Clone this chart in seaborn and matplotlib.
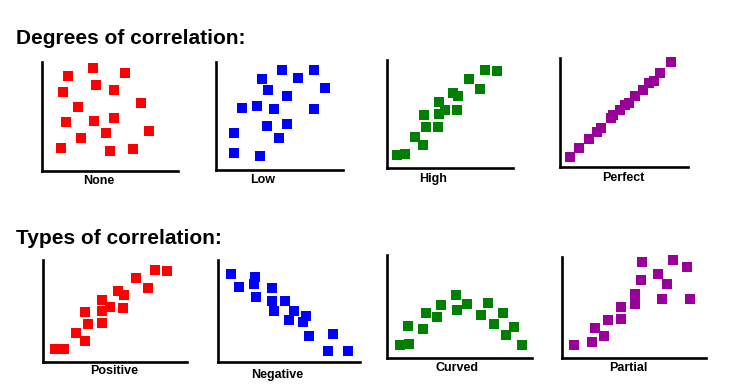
import matplotlib
matplotlib.use("Agg")
import matplotlib.pyplot as plt
import seaborn as sns
import pandas as pd

# ---- data (offsets from each panel's origin) ----
none_x = [51, 83, 26, 54, 21, 72, 36, 99, 24, 52, 72, 107, 64, 39, 19, 68, 91]
none_y = [103, 98, 95, 86, 79, 81, 64, 68, 49, 50, 53, 40, 38, 33, 23, 20, 22]

low_x = [66, 98, 46, 82, 109, 52, 71, 26, 41, 58, 98, 51, 71, 18, 63, 18, 44]
low_y = [100, 100, 91, 92, 82, 80, 74, 62, 64, 61, 61, 44, 46, 37, 32, 17, 14]

high_x = [10, 18, 36, 28, 39, 51, 37, 52, 58, 70, 52, 66, 71, 93, 82, 98, 110]
high_y = [13, 14, 23, 31, 41, 41, 53, 54, 58, 58, 66, 75, 72, 79, 89, 98, 97]

perfect_x = [10, 19, 29, 37, 41, 51, 53, 60, 65, 69, 75, 83, 89, 94, 100, 111]
perfect_y = [10, 19, 28, 35, 39, 49, 52, 57, 62, 64, 71, 77, 84, 86, 94, 105]

positive_x = [12, 21, 42, 33, 45, 59, 42, 59, 67, 80, 59, 75, 81, 105, 93, 112, 124]
positive_y = [13, 13, 21, 29, 38, 39, 50, 51, 55, 54, 62, 71, 67, 74, 84, 92, 91]

negative_x = [13, 37, 36, 21, 54, 38, 54, 67, 56, 76, 71, 88, 85, 91, 115, 110, 130]
negative_y = [88, 85, 78, 75, 74, 65, 61, 61, 51, 51, 42, 46, 40, 26, 28, 11, 11]

curved_x = [13, 22, 21, 36, 39, 50, 54, 69, 70, 80, 94, 101, 107, 116, 127, 119, 135]
curved_y = [13, 14, 32, 29, 45, 41, 53, 63, 48, 54, 43, 55, 34, 45, 31, 23, 13]

partial_x = [12, 30, 42, 33, 46, 59, 59, 73, 73, 100, 128, 79, 105, 96, 80, 111, 125]
partial_y = [13, 16, 22, 30, 38, 39, 51, 54, 64, 59, 59, 78, 74, 84, 96, 98, 91]

labels = ["None", "Low", "High", "Perfect", "Positive", "Negative", "Curved", "Partial"]
colors = ["#ff0000", "#0000ff", "#008000", "#990099",
          "#ff0000", "#0000ff", "#008000", "#990099"]
series = [(none_x, none_y), (low_x, low_y), (high_x, high_y), (perfect_x, perfect_y),
          (positive_x, positive_y), (negative_x, negative_y), (curved_x, curved_y),
          (partial_x, partial_y)]

# ---- layout (pixels, top-left origin): left, top, right, bottom ----
W, H = 744, 391
rects = [(42, 62, 178, 171), (216, 62, 343, 170), (387, 60, 513, 168), (560, 58, 688, 167),
         (43, 260, 187, 362), (218, 260, 360, 362), (387, 255, 532, 358), (562, 257, 706, 358)]
label_pos = [(99, 181), (263, 180), (433, 179), (623, 178),
             (114, 371), (277, 375), (457, 368), (628, 368)]

sns.set_style("white")
plt.rcParams['font.family'] = ['Liberation Sans', 'DejaVu Sans']

fig = plt.figure(figsize=(W / 100, H / 100), dpi=100)
fig.patch.set_facecolor("white")

for (l, t, r, b), (xs, ys), col, lab, (lx, ly) in zip(rects, series, colors, labels, label_pos):
    ax = fig.add_axes([l / W, 1 - b / H, (r - l) / W, (b - t) / H])
    df = pd.DataFrame({"x": xs, "y": ys})
    sns.scatterplot(data=df, x="x", y="y", ax=ax, marker="s", s=48,
                    color=col, linewidth=0, legend=False, clip_on=False)
    ax.set_xlim(0, r - l)
    ax.set_ylim(0, b - t)
    ax.set_xticks([])
    ax.set_yticks([])
    ax.set_xlabel("")
    ax.set_ylabel("")
    for side in ["top", "right"]:
        ax.spines[side].set_visible(False)
    for side in ["left", "bottom"]:
        ax.spines[side].set_color("black")
        ax.spines[side].set_linewidth(1.9)
    ax.patch.set_alpha(0)
    fig.text(lx / W, 1 - ly / H, lab, ha="center", va="center",
             fontsize=9, fontweight="bold", color="black")

fig.text(16 / W, 1 - 39 / H, "Degrees of correlation:", ha="left", va="center",
         fontsize=15, fontweight="bold", color="black")
fig.text(16 / W, 1 - 238 / H, "Types of correlation:", ha="left", va="center",
         fontsize=15, fontweight="bold", color="black")

fig.savefig("out.png", dpi=100, facecolor="white")
